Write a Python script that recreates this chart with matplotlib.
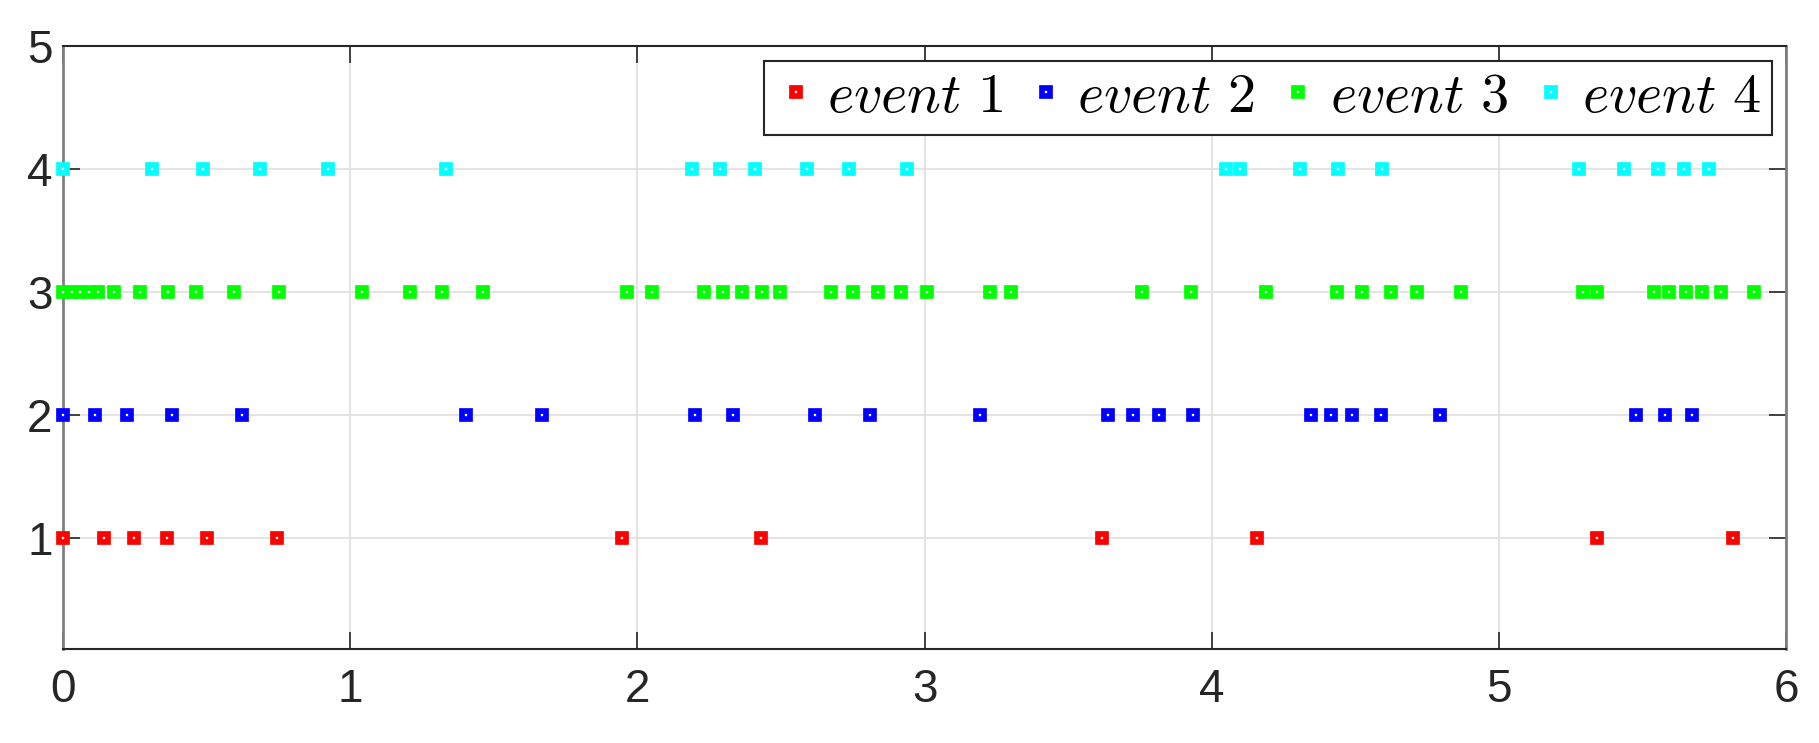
import numpy as np
import matplotlib
matplotlib.use("Agg")
import matplotlib.pyplot as plt

# === event times ===
event1 = [0.0, 0.142, 0.249, 0.361, 0.503, 0.745, 1.946, 2.430, 3.617, 4.157, 5.340, 5.816]
event2 = [0.0, 0.113, 0.223, 0.380, 0.625, 1.405, 1.667, 2.200, 2.332, 2.618, 2.809,
          3.194, 3.639, 3.727, 3.818, 3.934, 4.347, 4.414, 4.488, 4.589, 4.795,
          5.477, 5.579, 5.674]
event3 = [0.0, 0.031, 0.061, 0.090, 0.122, 0.179, 0.270, 0.367, 0.464, 0.594, 0.752,
          1.043, 1.208, 1.320, 1.463, 1.963, 2.052, 2.232, 2.300, 2.363, 2.433,
          2.497, 2.674, 2.751, 2.837, 2.919, 3.009, 3.227, 3.302, 3.756, 3.928,
          4.190, 4.437, 4.525, 4.624, 4.714, 4.868, 5.293, 5.341, 5.539, 5.594,
          5.651, 5.706, 5.773, 5.889]
event4 = [0.0, 0.309, 0.489, 0.686, 0.923, 1.335, 2.192, 2.289, 2.411, 2.590, 2.737,
          2.939, 4.051, 4.100, 4.309, 4.440, 4.594, 5.278, 5.435, 5.554, 5.646, 5.730]

events = [event1, event2, event3, event4]
labels = [r'$event\ 1$', r'$event\ 2$', r'$event\ 3$', r'$event\ 4$']
colors = ['#ff0000', '#0000ff', '#00ff00', '#00ffff']
xticks = [0, 1, 2, 3, 4, 5, 6]
yticks = [1, 2, 3, 4, 5]

plt.rcParams['font.family'] = ['Liberation Sans', 'DejaVu Sans']
plt.rcParams['mathtext.fontset'] = 'cm'

fig = plt.figure(figsize=(18.19, 7.43), dpi=100)
ax = fig.add_axes([0.0346, 0.1265, 0.9473, 0.8116])

for level, (times, lab, col) in enumerate(zip(events, labels, colors), start=1):
    ax.plot(times, np.full(len(times), level), linestyle='none', marker='s',
            markersize=6.2, markeredgewidth=4.1, markerfacecolor='white',
            markeredgecolor=col, label=lab, zorder=3, clip_on=False)

ax.set_xlim(0, 6)
ax.set_ylim(0.1, 5)
ax.set_xticks(xticks)
ax.set_yticks(yticks)
ax.grid(True, color='#dfdfdf', linewidth=1.2, zorder=0)
ax.set_axisbelow(True)

ax.tick_params(direction='in', length=12, width=1.2, colors='#262626',
               labelsize=33, top=True, right=True)
ax.tick_params(axis='x', pad=13.4)
ax.tick_params(axis='y', pad=7.5)
for side in ['top', 'bottom']:
    ax.spines[side].set_color('#262626')
    ax.spines[side].set_linewidth(1.5)
for side in ['left', 'right']:
    ax.spines[side].set_color('#808080')
    ax.spines[side].set_linewidth(2)

leg = ax.legend(ncol=4, loc='upper right', bbox_to_anchor=(0.9742, 0.9183),
                bbox_transform=fig.transFigure, borderaxespad=0,
                fontsize=40.5, fancybox=False, framealpha=1,
                edgecolor='#262626', handlelength=0.71, handletextpad=0.2,
                columnspacing=0.42, borderpad=0.2, markerscale=1.0)
leg.get_frame().set_linewidth(1.5)

fig.savefig('out.png', dpi=100)
